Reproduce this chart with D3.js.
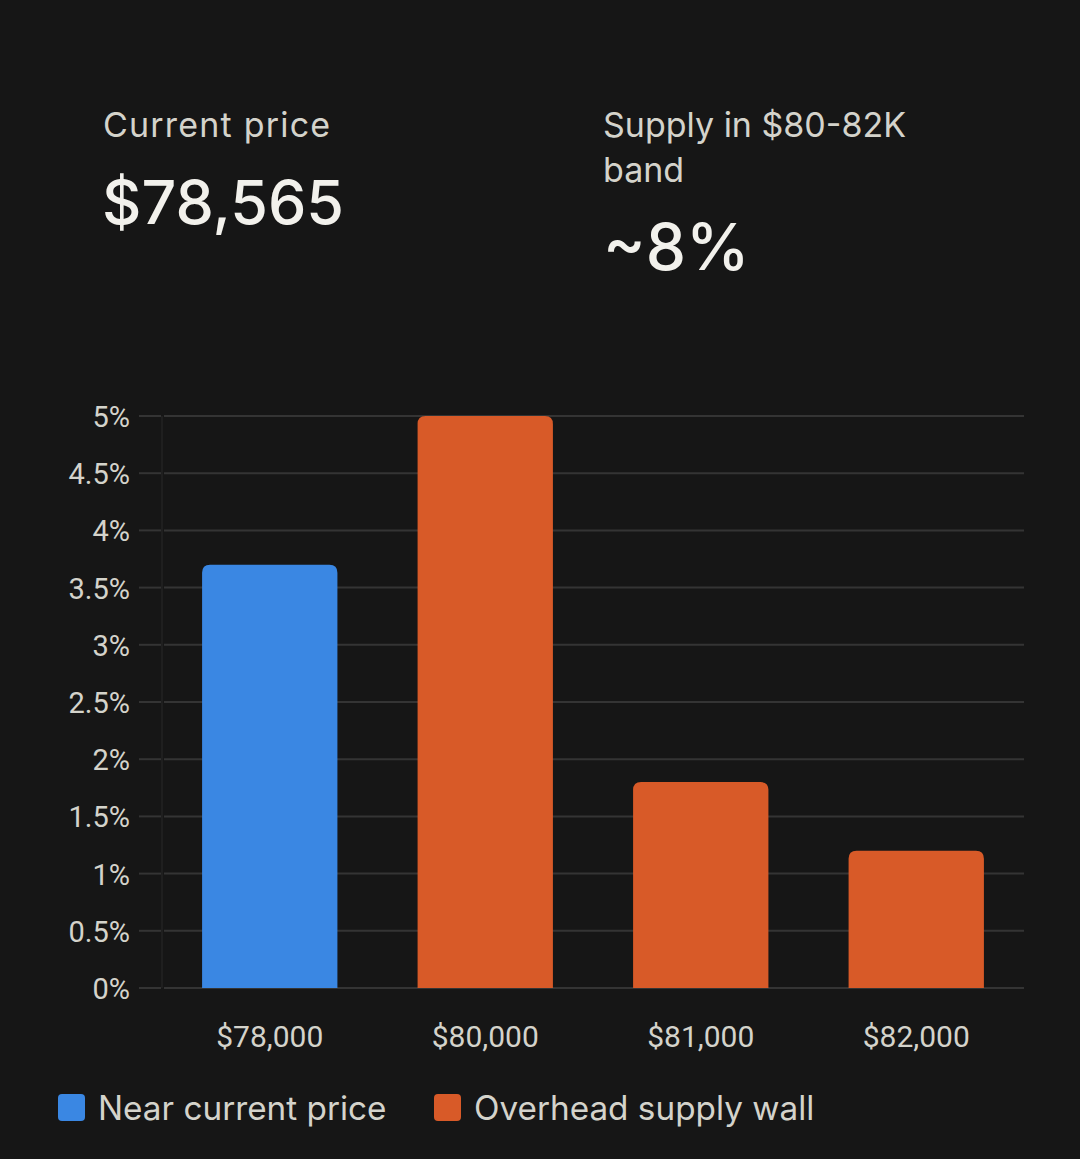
<!DOCTYPE html>
<html><head><meta charset="utf-8">
<script src="https://cdn.jsdelivr.net/npm/d3@7"></script>
<style>
html,body{margin:0;padding:0;background:#161616;}
svg{display:block;}
</style></head>
<body>
<svg id="c" width="1080" height="1159"></svg>
<script>
const categories = ["$78,000", "$80,000", "$81,000", "$82,000"];
const values = [3.7, 5.0, 1.8, 1.2];
const groups = ["near", "wall", "wall", "wall"];
const yTicks = [0, 0.5, 1, 1.5, 2, 2.5, 3, 3.5, 4, 4.5, 5];
const seriesNames = ["Near current price", "Overhead supply wall"];
const seriesKeys = ["near", "wall"];
const colors = {near: "#3a87e3", wall: "#d85a28"};

const svg = d3.select("#c");
svg.append("rect").attr("width",1080).attr("height",1159).attr("fill","#161616");

const txt = "#d4d3cb";
const headFont = "Inter, 'Open Sans', sans-serif";
// header stats
svg.append("text").attr("x",103).attr("y",137).attr("fill",txt).attr("font-family",headFont).attr("font-size",34).attr("letter-spacing",1.2).text("Current price");
svg.append("text").attr("x",102).attr("y",224).attr("fill","#f2f1ec").attr("font-family",headFont).attr("font-weight",500).attr("font-size",61).text("$78,565");
svg.append("text").attr("x",603).attr("y",137).attr("fill",txt).attr("font-family",headFont).attr("font-size",34).text("Supply in $80-82K");
svg.append("text").attr("x",603).attr("y",182).attr("fill",txt).attr("font-family",headFont).attr("font-size",34).text("band");
svg.append("text").attr("x",603).attr("y",270).attr("fill","#f2f1ec").attr("font-family",headFont).attr("font-weight",500).attr("font-size",64).text("~8%");

const x0 = 162, x1 = 1024, yTop = 416, yBot = 988;
const x = d3.scaleBand().domain(categories).range([x0, x1]).paddingInner(0.372).paddingOuter(0.186);
const y = d3.scaleLinear().domain([0,5]).range([yBot, yTop]);

// grid
const g = svg.append("g");
g.selectAll("line.grid").data(yTicks).join("line")
  .attr("x1",x0+2).attr("x2",x1).attr("y1",d=>y(d)).attr("y2",d=>y(d))
  .attr("stroke","#343434").attr("stroke-width",2);
// tick marks
g.selectAll("line.tk").data(yTicks).join("line")
  .attr("x1",139).attr("x2",161).attr("y1",d=>y(d)).attr("y2",d=>y(d))
  .attr("stroke","#343434").attr("stroke-width",2);
// vertical axis line
g.append("line").attr("x1",162).attr("x2",162).attr("y1",yTop).attr("y2",yBot).attr("stroke","#232323").attr("stroke-width",1.5);

// y labels
const yAxis = d3.axisLeft(y).tickValues(yTicks).tickSize(0).tickPadding(0).tickFormat(d=>d+"%");
const ya = svg.append("g").attr("transform","translate(130,0)").call(yAxis);
ya.select(".domain").remove();
ya.selectAll("text").attr("fill",txt).attr("font-family","Roboto, sans-serif").attr("font-size",29).attr("dy","0.36em");

// bars with rounded top corners
const r = 8;
function barPath(d,i){
  const bx = x(categories[i]), bw = x.bandwidth(), top = y(d), bot = y(0);
  return `M${bx},${bot}V${top+r}Q${bx},${top} ${bx+r},${top}H${bx+bw-r}Q${bx+bw},${top} ${bx+bw},${top+r}V${bot}Z`;
}
svg.append("g").selectAll("path").data(values).join("path")
  .attr("d",(d,i)=>barPath(d,i)).attr("fill",(d,i)=>colors[groups[i]]);

// x labels
const xAxis = d3.axisBottom(x).tickSize(0).tickPadding(0);
const xa = svg.append("g").attr("transform","translate(0,1036)").call(xAxis);
xa.select(".domain").remove();
xa.selectAll("text").attr("fill",txt).attr("font-family","Roboto, sans-serif").attr("font-size",30).attr("dy","0.36em");

// legend
const legX = [58, 434];
const lg = svg.append("g").selectAll("g").data(seriesKeys).join("g")
  .attr("transform",(d,i)=>`translate(${legX[i]},1094)`);
lg.append("rect").attr("width",27).attr("height",27).attr("rx",4).attr("fill",d=>colors[d]);
lg.append("text").attr("x",40).attr("y",26).attr("fill",txt).attr("font-family",headFont).attr("font-size",33.3)
  .text((d,i)=>seriesNames[i]);
</script>
</body></html>
